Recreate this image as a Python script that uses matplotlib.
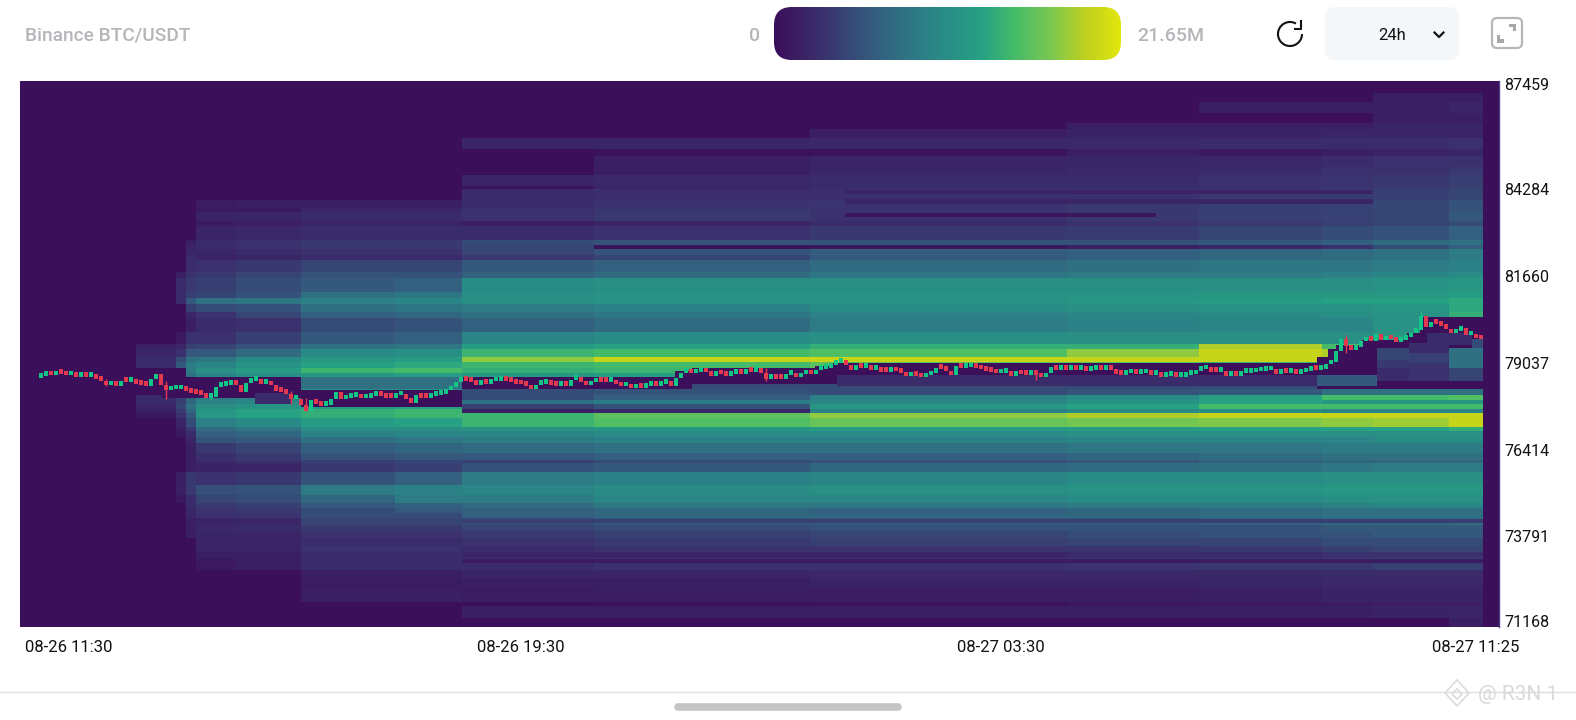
import numpy as np
import matplotlib
matplotlib.use("Agg")
import matplotlib.pyplot as plt
from matplotlib.colors import LinearSegmentedColormap
from matplotlib.patches import FancyBboxPatch, Arc, Polygon
from matplotlib.transforms import ScaledTranslation

# ---------- data ----------
X_TICKS = [0, 480, 960, 1435]
X_LABELS = ["08-26 11:30", "08-26 19:30", "08-27 03:30", "08-27 11:25"]
Y_TICKS = [71168, 73791, 76414, 79037, 81660, 84284, 87459]
CANDLE_STEP = 5
SCALE_MAX = 21.65

CLOSES = [
 78647,78727,78667,78787,78717,78667,78737,78617,78697,78627,78697,78567,78507,78367,78477,78347,78487,78467,78497,78407,
 78387,78357,78547,78697,78367,78217,78247,78247,78307,78197,78147,78117,78087,77997,78027,78317,78347,78367,78517,78377,
 78177,78447,78497,78547,78417,78487,78367,78197,78167,78117,77947,77967,77767,77607,77917,77817,77747,77787,
 77947,78167,77947,77997,78017,78097,77977,77987,78057,78107,78047,77997,77987,78067,78107,77947,77847,78067,77997,77987,
 78047,78077,78117,78217,78317,78467,78577,78507,78477,78387,78437,78417,78487,78507,78537,78507,78477,78417,78397,78347,
 78247,78377,78417,78487,78377,78357,78367,78357,78537,78547,78477,78367,78457,78497,78477,78467,78487,78397,
 78337,78337,78277,78367,78297,78357,78367,78357,78417,78427,78347,78577,78747,78757,78727,78757,78767,78757,78657,78727,
 78697,78647,78707,78837,78717,78827,78767,78817,78747,78567,78697,78567,78557,78687,78737,78607,78697,78707,78697,78827,
 78857,78887,78987,79037,79067,78977,78837,78947,78887,78887,78827,78887,78777,78767,78837,78787,78747,78637,
 78727,78657,78607,78667,78747,78897,78867,78797,78667,78947,78887,78907,78907,78897,78847,78807,78767,78727,78737,78747,
 78657,78727,78697,78687,78707,78677,78607,78747,78917,78827,78847,78837,78847,78827,78827,78797,78837,78847,78827,78847,
 78827,78707,78687,78727,78777,78707,78727,78737,78677,78687,78617,78647,78727,78617,78627,78677,78697,78807,
 78847,78897,78777,78767,78797,78657,78697,78657,78747,78747,78757,78787,78797,78817,78827,78717,78747,78737,78777,78717,
 78757,78797,78837,78827,78847,78997,79057,79397,79747,79557,79437,79507,79687,79787,79707,79907,79717,79757,79747,79667,
 79737,79807,79937,80037,80447,80127,80237,80207,80157,80057,79927,80007,80097,79867,79907,79777,79747]
WICK_CANDLE = [13, 25, 34, 50, 53, 145, 199, 143, 160, 260, 261, 276]
WICK_LOW = [78297, 77927, 77877, 77767, 77547, 78457, 78497, 78767, 79037, 79747, 79307, 80127]
WICK_HIGH = [78517, 78447, 78097, 78147, 77947, 78847, 78677, 78957, 79157, 79787, 79847, 80517]

BAND_TOP = [
 87459,87099,86829,86499,86199,86019,85749,85419,85209,84879,
 84639,84309,84219,83889,83649,83529,83259,83109,82689,82539,
 82419,82239,82089,81729,81549,81129,80949,80769,80529,80349,
 79929,79569,79419,79179,79029,78849,78699,78579,78219,78039,
 77889,77769,77619,77499,77349,77079,76959,76779,76599,76299,
 76089,75999,75729,75339,75039,74799,74649,74499,74349,74139,
 73959,73749,73509,73329,73149,72789,72549,72249,71829,71709,
 71349,71079]

SECTION_START = [95, 135, 145, 155, 195, 260, 354, 421, 553, 769, 1026, 1158, 1281, 1332, 1408, 1442]
S0 = [0]*30 + [0,1.5,2,2.5,2.5,3,0,0,0,2.5] + [2.5,2,1.5,1,0,0,0,0,0,0] + [0]*21
S1A = [0]*20 + [0,0,0,1.5,2.5,2.5,2.5,0,0,0] + [1,2,3,5,6,6,5,0,1.5,4] + \
      [4,4.5,3.5,3,2,1.5,1,0,0,0] + [0,0,1.5,1.5,1,0,0,0,0,0] + [0]*11
S1B = [0]*10 + [0,0,0,0,0,0,0,0,1.5,2] + [2,2.5,2.5,3,3.5,4,6,4,2,1.5] + [3,4,6,8,9,9,8,0,3,7] + \
      [7,8,7,6,5,3.5,2.5,2,1.5,1.5] + [1.5,1.5,3.5,3.5,2.5,2.5,2,2,1.5,1.5] + [1.5,0,0,0,0,0,0,0,0,0] + [0]
S2A = [0]*10 + [0,0,0,1.2,1,1.8,1.2,2,2.5,2.5] + [2,1.8,3,3.5,4,4.5,8,5,3,2.5] + [3,4.5,6,8.5,10,11,10,0,3,9] + \
      [9.5,11,12,12,9.5,7.5,6.5,5.5,3.5,2.8] + [2.5,1.8,3,5.2,4.5,3.5,3.2,3,1.8,2.2] + [2,2,1.8,1.5,1,0,0,0,0,0] + [0]
S2B = [0]*10 + [0,0,0,1.5,1,2,1.5,2.2,3,3] + [2.5,2,3.5,4.5,5,5.5,8.5,5.5,4.5,3] + [4,5.5,7.5,10.5,11.5,12.5,11,0,3,9.5] + \
      [10,11.5,13,13,10.5,8.5,7,6,4.5,3.5] + [3,2,3.5,5.5,5,4,3.5,3.2,2,2.5] + [2,2,1.8,1.5,1.5,0,0,0,0,0] + [0]
S3 = [0]*10 + [0,0,0,1.5,2,2.5,2,2.5,3.5,3.5] + [3,2.5,4.5,5.5,6,8,9.5,8,6.5,5] + [6,8,10.5,12,13,14.5,12,8,11,12] + \
     [12,12,14,14,12.5,11,9.5,8,6.5,5.5] + [4,3.5,5.5,9,7,6,5,5,4.5,3.5] + [3,2.5,3,2.5,2.5,1.5,1.2,1.5,0,0] + [0]
S4 = [0]*10 + [0,0,0,1.5,2,2.5,2,2.5,3.5,3.5] + [3,2.5,4.5,5.5,6.5,8.5,10,8.5,7,5.5] + [6.5,8.5,11,12.5,13.5,15,12.5,8,11.5,13] + \
     [13,13,14.5,14.5,13,11,10,8.5,7,6] + [4.5,4,6.5,9.5,9,6.5,6,5,4.5,3.5] + [3,2.5,3,2.5,2.5,1.5,1.2,1.5,0,0] + [0]
S5 = [0,0,0,0,0,0,2,0,0,0] + [2,0.5,2.5,2.5,3,3,1.5,2.5,5,4.5] + [4.5,3.5,6,6.5,10.5,11,11,9,8,6.5] + \
     [10,12.5,14.5,18,14.5,14,12,0,5,5] + [8,4,1.5,14.5,14.5,11.5,10,9,7.5,6] + [4,5.5,9,10,9,7.5,6.5,6.5,5,4.5] + \
     [3.5,3,2.5,2,2.5,2,1.5,1.2,0,1.5] + [0]
S6 = [0,0,0,0,0,0,2,0.5,1.5,1.5] + [2.3,2,2.8,3,3.3,3.5,2,3,5.5,0.5] + [5.5,4.5,6.5,7.5,11,11.5,11.5,9.5,8.5,7.5] + \
     [10.5,13,15,20,15,14.5,12.5,0,5.5,6.5] + [9,5.5,2,16,15.5,12,10.5,9.5,8,6.5] + [5,6,9.5,10.5,10,8.5,7,7,6,5] + \
     [4,3.5,3,2,3,2,1.5,1.3,0.3,1.5] + [0]
S7 = [0,0,0,0,0,1.5,2.2,0.5,2,2] + [2.5,2.5,2.8,3.2,3.2,3,2.5,3.5,5.5,1] + [6.2,6,7.5,8.5,11,11.5,11.5,10.5,9.5,9] + \
     [11,14,15.5,20,16,15,13,0,5,9.5] + [10,12,9.5,18,16.5,12.5,10.5,9.5,8,6.5] + [5.5,7,10,11,10,8.5,6.5,7,6,5.5] + \
     [4.5,4,3.2,2,3,2.2,1.8,1.3,0.5,1.5] + [0]
S8 = [0,0,0,0,1.5,1.8,2.2,1.5,2,2.2] + [2.5,2.8,3,3.5,3.5,3.5,3,3.8,5.5,1.5] + [6.5,6.5,8,9,11,11.5,12,11,10,9.5] + \
     [11,14,18,20,16,15,13,0,5.5,10.5] + [11.5,13,10.5,19,17,12.5,11,10,8.5,7] + [6,7.5,10.5,11.5,10.5,9,7,7,6,5.5] + \
     [5,4.5,3.2,2.5,3.2,2.2,1.8,1.3,0.8,1.5] + [0]
S9 = [0,0,1.5,0,1.5,1.8,2.5,1,2.2,2.5] + [3,3,3.5,4,4,4,3.5,4.5,6,2] + [7,7,8.5,9,11,12,12.5,11.5,10.5,10] + \
     [11,19,20,20,14,14,13,0,6,13] + [13,15,11,20,17.5,13,11,10,8.5,7.5] + [6.5,8,10.5,11.5,10.5,9,7.5,7.5,6.5,5.5] + \
     [5.5,4.5,3.5,2.5,3.5,2.2,2,1.5,1,1.5] + [0]
S10 = [0,0,1.5,0,1.5,2,2.5,1.5,2.5,3] + [3.2,3.2,3.8,4.2,4.2,4.2,4,5,6.5,3] + [7.5,7.5,8.5,9.5,11,12,13,11.5,11,10] + \
     [11,15,19,20,14,14,13,0,8,15] + [12,15,10,20,18,13,11,10,9,8] + [7,8.5,11,12,11,9.5,8,8,7,6] + \
     [5.5,5,4,3,3.5,2.5,2.2,1.8,1.2,1.5] + [0]
S11 = [0,1.5,1.5,1.5,2,2,2.5,1.8,3,3] + [3.5,3.5,4,4.5,4.5,4.5,4.5,5.5,7.5,5] + [8,8,9,10,11.5,12,13,12,11.5,11.5] + \
     [12,12,12,12,12,12,12,0,8,15] + [12,15,10,20,18.5,13,11,10.5,9,8] + [7,9,11,12,11,10,8,8,7,6] + \
     [6,5,4.5,3.2,4,2.5,2.2,1.8,1.4,1.8] + [0]
S12 = [0,1.5,2,1.5,2,2,3,2,3,3.5] + [4,4,4.5,5.5,5.5,6,5,6.5,8,6.5] + [9,9,9.5,10.5,12,12.5,13.5,13.5,14,14] + \
     [14,14,14,14,14,14,14,0,8,15.5] + [12,15,10,20,20,14,11,10.5,9,8] + [7,9,11,12,11,10,8,8,7.5,6] + \
     [6,5,4.5,3.2,4,2.5,2.2,1.8,1.4,2] + [1.5]
SECTIONS = [S0, S1A, S1B, S2A, S2B, S3, S4, S5, S6, S7, S8, S9, S10, S11, S12]

GAP_START  = [95,121,145,250,260,421,634,651,774,789,796,1276,1287,1295,1321,1336,1366,1379]
GAP_TOP    = [78849,78849,78579,78339,78189,78579,78759,78849,78909,78999,78999,79179,79419,79539,79689,79689,79899,80379]
GAP_BOTTOM = [78099,77949,77949,77949,77679,78219,78219,78369,78369,78369,78639,78639,78639,78639,78639,78309,78309,78309]
GAP_END = 1442

PATCH_START = [214,651,796,796,1276,1336,1336,1336,1368,1368,1368,1386,1408,1408,1431,804,804,804,421,421]
PATCH_END   = [250,796,1276,1276,1336,1368,1368,1368,1408,1408,1408,1431,1442,1442,1442,1115,1332,1332,1442,1442]
PATCH_TOP   = [78099,78369,78639,78309,78639,79449,79089,78849,79599,79299,78999,79899,79449,78849,79719,83499,84189,83919,74319,73119]
PATCH_BOTTOM= [77769,78219,78309,78219,78309,79089,78849,78459,79299,78999,78459,79539,78849,78459,79449,83379,84069,83769,74199,72999]
PATCH_VALUE = [2.5,5,2.5,5,6,4.5,3.5,2.5,2.5,4,3,2.5,8,4.5,5,0.7,1.8,2,4,1.2]

# ---------- build heat grid ----------
T_MIN, T_MAX = -21, 1458
P_MIN, P_MAX = BAND_TOP[-1], BAND_TOP[0]
t_centers = np.arange(T_MIN, T_MAX) + 0.5
p_centers = np.arange(P_MAX - 15, P_MIN, -30)
Z = np.zeros((p_centers.size, t_centers.size))
for s, values in enumerate(SECTIONS):
    assert len(values) == len(BAND_TOP) - 1, s
    cols = (t_centers >= SECTION_START[s]) & (t_centers < SECTION_START[s + 1])
    for b, v in enumerate(values):
        rows = (p_centers <= BAND_TOP[b]) & (p_centers > BAND_TOP[b + 1])
        Z[np.ix_(rows, cols)] = v
gap_edges = GAP_START + [GAP_END]
for i in range(len(GAP_START)):
    cols = (t_centers >= gap_edges[i]) & (t_centers < gap_edges[i + 1])
    rows = (p_centers <= GAP_TOP[i]) & (p_centers > GAP_BOTTOM[i])
    Z[np.ix_(rows, cols)] = 0
for a, b, top, bot, v in zip(PATCH_START, PATCH_END, PATCH_TOP, PATCH_BOTTOM, PATCH_VALUE):
    cols = (t_centers >= a) & (t_centers < b)
    rows = (p_centers <= top) & (p_centers > bot)
    Z[np.ix_(rows, cols)] = v

# ---------- figure ----------
plt.rcParams["font.family"] = ["Roboto", "DejaVu Sans"]
W, H = 1576, 720
fig = plt.figure(figsize=(W / 100, H / 100), dpi=100, facecolor="white")
cmap = LinearSegmentedColormap.from_list("liq", [
    (0.00, "#3c0f5a"), (0.15, "#3a3570"), (0.30, "#33617f"), (0.45, "#2b8487"),
    (0.60, "#26a184"), (0.70, "#47bc68"), (0.80, "#7bc850"), (0.90, "#bfd020"),
    (1.00, "#e0e60c")])

ax = fig.add_axes([20 / W, 1 - 627 / H, (1499 - 20) / W, (627 - 81) / H])
ax.imshow(Z, extent=[T_MIN, T_MAX, P_MIN, P_MAX], origin="upper", aspect="auto",
          interpolation="nearest", cmap=cmap, vmin=0, vmax=SCALE_MAX, zorder=1)

# candles
UP, DOWN = "#10c585", "#e2394f"
closes = np.array(CLOSES, dtype=float)
opens = np.r_[closes[0] - 60, closes[:-1]]
times = np.arange(closes.size) * CANDLE_STEP
colors = [UP if c >= o else DOWN for o, c in zip(opens, closes)]
ax.vlines(times[WICK_CANDLE], WICK_LOW, WICK_HIGH,
          colors=[colors[i] for i in WICK_CANDLE], lw=1, zorder=2)
ax.bar(times, np.maximum(np.abs(closes - opens), 140), bottom=np.minimum(opens, closes) - 40,
       width=CANDLE_STEP * 0.98, color=colors, linewidth=0, zorder=3)

ax.set_xlim(T_MIN, T_MAX)
ax.set_ylim(P_MIN, P_MAX)
ax.set_xticks(X_TICKS, X_LABELS)
ax.set_yticks(Y_TICKS, [str(v) for v in Y_TICKS])
ax.yaxis.tick_right()
ax.tick_params(axis="both", length=0, labelsize=11.5, labelcolor="#111111")
ax.tick_params(axis="x", pad=9.5, labelsize=12)
ax.tick_params(axis="y", pad=4)
for side in ("top", "left", "bottom"):
    ax.spines[side].set_visible(False)
ax.spines["right"].set_color("#4d3b85")
ax.spines["right"].set_linewidth(1)
ytrans = [3, 1, -1, -1, -2, -2, -3]
for lab, dy in zip(ax.get_yticklabels(), ytrans):
    lab.set_transform(lab.get_transform() + ScaledTranslation(0, dy / 100, fig.dpi_scale_trans))
first = ax.get_xticklabels()[0]
first.set_ha("left")
first.set_transform(first.get_transform() + ScaledTranslation(-16 / 100, 0, fig.dpi_scale_trans))

# ---------- page furniture in pixel coordinates ----------
ov = fig.add_axes([0, 0, 1, 1], facecolor="none")
ov.set_axis_off()
GREY = "#b4b6ba"
ov.text(25, 35, "Binance BTC/USDT", color=GREY, fontsize=13.8, weight="medium", va="center", ha="left")
ov.text(755, 36, "0", color=GREY, fontsize=14, weight="medium", va="center", ha="center")
ov.text(1137, 36, "21.65M", color=GREY, fontsize=14, weight="medium", va="center", ha="left")

r = 18
clip = FancyBboxPatch((774 + r, 7 + r), 347 - 2 * r, 53 - 2 * r, boxstyle=f"round,pad={r}",
                      fc="none", ec="none")
ov.add_patch(clip)
ramp = np.linspace(0, 1, 347)[None, :]
im = ov.imshow(ramp, extent=[774, 1121, 60, 7], aspect="auto", cmap=cmap, vmin=0, vmax=1)
im.set_clip_path(clip)

ov.add_patch(Arc((1290, 34), 24, 24, theta1=0, theta2=300, color="#111111", lw=1.5))
ov.plot([1301, 1301, 1295], [21, 28.5, 28.5], color="#111111", lw=1.5)

ov.add_patch(FancyBboxPatch((1335, 17), 114, 33, boxstyle="round,pad=10", fc="#f4f7f9", ec="none"))
ov.text(1392, 35, "24h", color="#111111", fontsize=12, va="center", ha="center")
ov.plot([1434.5, 1439, 1443.5], [32.5, 37, 32.5], color="#111111", lw=1.6)

ov.add_patch(FancyBboxPatch((1497, 23), 20, 20, boxstyle="round,pad=5", fc="white", ec=GREY, lw=1.6))
ov.add_patch(Polygon([(1509, 24), (1516, 24), (1516, 31), (1513, 31), (1513, 27), (1509, 27)], fc="#a8a8a8", ec="none"))
ov.add_patch(Polygon([(1497, 35), (1500, 35), (1500, 39), (1504, 39), (1504, 43), (1497, 43)], fc="#a8a8a8", ec="none"))

ov.plot([0, W], [692, 692], color="#dedede", lw=1)
ov.plot([678, 898], [707, 707], color="#c4c4c4", lw=5.5, solid_capstyle="round")

ov.text(1478, 695, "@ R3N 1", color="#d9d9d9", fontsize=15, va="center", ha="left")
ov.add_patch(Polygon([(1457, 680), (1469, 693), (1457, 706), (1445, 693)], fill=False, ec="#dcdcdc", lw=1.2))
ov.add_patch(Polygon([(1457, 689), (1462, 694), (1457, 699), (1452, 694)], fill=False, ec="#dcdcdc", lw=1.2))

ov.set_xlim(0, W)
ov.set_ylim(H, 0)

fig.savefig("out.png", dpi=100, facecolor="white")
